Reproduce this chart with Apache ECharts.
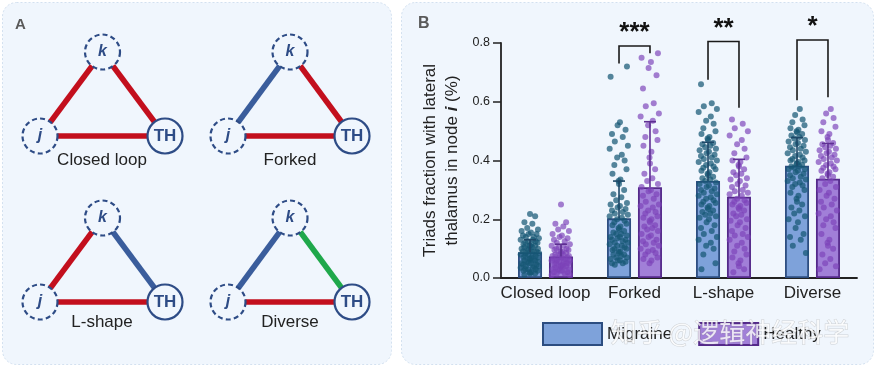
<!DOCTYPE html>
<html>
<head>
<meta charset="utf-8">
<script src="https://cdn.jsdelivr.net/npm/echarts@6/dist/echarts.min.js"></script>
<style>
html,body{margin:0;padding:0;background:#ffffff;}
#c{width:876px;height:367px;}
</style>
</head>
<body>
<div id="c"></div>
<script>
// ---------- DATA ----------
var categories = ['Closed loop', 'Forked', 'L-shape', 'Diverse'];
var seriesNames = ['Migraine', 'Healthy'];
var yTicks = [0, 0.2, 0.4, 0.6, 0.8];

var migraineMean = [0.088, 0.203, 0.330, 0.382];
var healthyMean  = [0.073, 0.309, 0.277, 0.338];
var migraineUpper = [0.130, 0.330, 0.462, 0.478];
var healthyUpper  = [0.115, 0.532, 0.404, 0.458];

// individual subjects
var closedMigraine = [0.218,0.21,0.19,0.185,0.17,0.165,0.16,0.155,0.15,0.15,0.145,0.14,0.14,0.135,0.13,0.13,0.125,0.125,0.12,0.12,0.115,0.115,0.11,0.11,0.11,0.105,0.105,0.10,0.10,0.10,0.095,0.095,0.09,0.09,0.09,0.085,0.085,0.08,0.08,0.08,0.075,0.075,0.07,0.07,0.07,0.065,0.065,0.06,0.06,0.06,0.055,0.055,0.05,0.05,0.05,0.045,0.045,0.04,0.04,0.04,0.035,0.035,0.03,0.03,0.03,0.025,0.025,0.02,0.02,0.015,0.015,0.01];
var closedHealthy = [0.25,0.19,0.185,0.175,0.165,0.16,0.15,0.145,0.14,0.135,0.13,0.125,0.12,0.115,0.11,0.11,0.105,0.10,0.10,0.095,0.095,0.09,0.09,0.085,0.085,0.08,0.08,0.08,0.075,0.075,0.07,0.07,0.07,0.065,0.065,0.06,0.06,0.06,0.055,0.055,0.05,0.05,0.05,0.045,0.045,0.04,0.04,0.04,0.035,0.035,0.03,0.03,0.03,0.025,0.025,0.02,0.02,0.015,0.015,0.01,0.01];
var forkedMigraine = [0.72,0.685,0.53,0.52,0.505,0.49,0.48,0.465,0.45,0.44,0.42,0.41,0.40,0.385,0.37,0.355,0.335,0.33,0.32,0.30,0.285,0.275,0.265,0.255,0.25,0.245,0.24,0.235,0.23,0.225,0.22,0.215,0.21,0.205,0.20,0.195,0.19,0.185,0.18,0.175,0.17,0.165,0.16,0.155,0.15,0.15,0.145,0.14,0.14,0.135,0.13,0.13,0.125,0.12,0.12,0.115,0.11,0.11,0.105,0.10,0.10,0.095,0.09,0.09,0.085,0.08,0.08,0.075,0.07,0.07,0.065,0.06,0.06,0.055,0.05,0.05,0.045];
var forkedHealthy = [0.765,0.75,0.735,0.715,0.69,0.645,0.595,0.585,0.56,0.55,0.535,0.52,0.50,0.48,0.47,0.45,0.43,0.41,0.39,0.37,0.355,0.34,0.33,0.32,0.31,0.30,0.295,0.285,0.28,0.27,0.26,0.25,0.245,0.24,0.23,0.225,0.22,0.21,0.205,0.20,0.195,0.19,0.18,0.175,0.17,0.165,0.16,0.15,0.145,0.14,0.13,0.125,0.12,0.115,0.11,0.10,0.095,0.09,0.085,0.08,0.07,0.065,0.06,0.05];
var lshapeMigraine = [0.66,0.595,0.585,0.575,0.565,0.55,0.535,0.525,0.51,0.50,0.49,0.48,0.475,0.47,0.46,0.455,0.45,0.445,0.44,0.435,0.43,0.425,0.42,0.415,0.41,0.405,0.40,0.395,0.39,0.385,0.38,0.375,0.37,0.365,0.36,0.355,0.35,0.345,0.34,0.335,0.33,0.325,0.32,0.315,0.31,0.305,0.30,0.295,0.29,0.285,0.28,0.275,0.27,0.265,0.26,0.255,0.25,0.245,0.24,0.235,0.23,0.225,0.22,0.215,0.21,0.205,0.20,0.19,0.18,0.17,0.16,0.15,0.14,0.13,0.12,0.11,0.10,0.08,0.05,0.03];
var lshapeHealthy = [0.54,0.525,0.51,0.50,0.485,0.47,0.455,0.44,0.425,0.41,0.40,0.395,0.385,0.38,0.37,0.36,0.355,0.35,0.34,0.335,0.33,0.32,0.315,0.31,0.30,0.295,0.29,0.285,0.28,0.27,0.265,0.26,0.255,0.25,0.245,0.24,0.235,0.23,0.22,0.215,0.21,0.20,0.195,0.19,0.18,0.17,0.16,0.15,0.145,0.14,0.13,0.12,0.11,0.10,0.09,0.08,0.07,0.06,0.05,0.04,0.03,0.02];
var diverseMigraine = [0.575,0.555,0.54,0.53,0.52,0.51,0.505,0.50,0.495,0.49,0.485,0.48,0.475,0.47,0.465,0.46,0.455,0.45,0.445,0.44,0.435,0.43,0.425,0.42,0.415,0.41,0.405,0.40,0.40,0.395,0.39,0.39,0.385,0.38,0.38,0.375,0.37,0.37,0.365,0.36,0.355,0.35,0.345,0.34,0.335,0.33,0.325,0.32,0.315,0.31,0.30,0.29,0.28,0.27,0.26,0.25,0.24,0.23,0.22,0.21,0.20,0.19,0.17,0.15,0.14,0.13,0.11,0.085];
var diverseHealthy = [0.575,0.56,0.545,0.53,0.515,0.50,0.49,0.48,0.47,0.46,0.455,0.45,0.445,0.44,0.435,0.43,0.425,0.42,0.415,0.41,0.405,0.40,0.395,0.39,0.385,0.38,0.375,0.37,0.365,0.36,0.355,0.35,0.345,0.34,0.33,0.32,0.31,0.30,0.29,0.28,0.27,0.26,0.25,0.24,0.23,0.22,0.21,0.20,0.19,0.18,0.17,0.15,0.13,0.12,0.11,0.10,0.08,0.065,0.05,0.04,0.03];

// hand-typed horizontal spread pattern of the dots (fraction of half-spread)
var jitterPattern = [0, 0.55, -0.6, 0.25, -0.3, 0.85, -0.9, 0.1, -0.15, 0.7, -0.75, 0.4, -0.45, 0.95, -1, 0.3, -0.2, 0.6, -0.5, 0.8, -0.7, 0.15, -0.05];

// significance brackets: [category, leftLegBottom, rightLegBottom, top, label]
var brackets = [
  [1, 0.730, 0.765, 0.790, '***'],
  [2, 0.675, 0.580, 0.805, '**'],
  [3, 0.605, 0.615, 0.810, '*']
];

// panel A: triad motifs
var motifNames = ['Closed loop', 'Forked', 'L-shape', 'Diverse'];
var nodeNames = ['j', 'k', 'TH'];
var nodeX = [0, 0.5, 1];
var nodeY = [0, 1, 0];
var nodeDashed = [true, true, false];
// edge colour order: j-k, k-TH, j-TH
var edgeColors = [
  ['red', 'red', 'red'],
  ['blue', 'red', 'red'],
  ['red', 'blue', 'red'],
  ['blue', 'green', 'red']
];
var edgePairs = [[0, 1], [1, 2], [0, 2]];

// ---------- STYLE ----------
var FONT = 'Liberation Sans, Arial, Helvetica, sans-serif';
var PANEL_BG = '#f0f6fd';
var NODE_COLOR = '#2e4c86';
var colorMap = { red: '#c30f1d', blue: '#3a5d9c', green: '#1fa84b' };
var motifGrids = [
  { left: 40, top: 52, width: 125, height: 84 },
  { left: 228, top: 52, width: 124, height: 84 },
  { left: 40, top: 218, width: 125, height: 84 },
  { left: 228, top: 218, width: 124, height: 84 }
];
var motifLabelPos = [[102, 160], [290, 160], [102, 322], [290, 322]];

var barGrid = { left: 501, right: 19, top: 43, bottom: 89 };
var halfOffset = 0.174;   // bar centre offset from category centre (category units)
var spread = 0.105;

var chart = echarts.init(document.getElementById('c'), null, { renderer: 'canvas' });

var grids = [], xAxes = [], yAxes = [], series = [];

// ----- Panel A grids -----
motifGrids.forEach(function (g, gi) {
  grids.push(Object.assign({ containLabel: false }, g));
  xAxes.push({ type: 'value', gridIndex: gi, min: 0, max: 1, show: false });
  yAxes.push({ type: 'value', gridIndex: gi, min: 0, max: 1, show: false });
  var edges = edgePairs.map(function (p, ei) {
    return {
      coords: [[nodeX[p[0]], nodeY[p[0]]], [nodeX[p[1]], nodeY[p[1]]]],
      lineStyle: { color: colorMap[edgeColors[gi][ei]], width: 5.5, opacity: 1 }
    };
  });
  series.push({
    type: 'lines', coordinateSystem: 'cartesian2d', xAxisIndex: gi, yAxisIndex: gi,
    polyline: false, clip: false, silent: true, z: 2, data: edges,
    lineStyle: { width: 5.5, opacity: 1, cap: 'butt' }
  });
  series.push({
    type: 'scatter', xAxisIndex: gi, yAxisIndex: gi, clip: false, silent: true, z: 3,
    symbol: 'circle', symbolSize: 35,
    data: nodeNames.map(function (n, ni) {
      return {
        value: [nodeX[ni], nodeY[ni]], name: n,
        itemStyle: {
          color: PANEL_BG, opacity: 1, borderColor: NODE_COLOR, borderWidth: 2.2,
          borderType: nodeDashed[ni] ? [5, 3.2] : 'solid'
        },
        label: {
          show: true, position: 'inside', formatter: n, color: NODE_COLOR,
          fontFamily: FONT, fontWeight: 'bold', fontSize: n === 'TH' ? 17 : 16,
          fontStyle: n === 'TH' ? 'normal' : 'italic'
        }
      };
    })
  });
});

// ----- Panel B -----
var bgi = grids.length;
grids.push(Object.assign({ containLabel: false }, barGrid));
var catAxisIdx = xAxes.length;
xAxes.push({
  type: 'category', gridIndex: bgi, data: categories,
  axisLine: { onZero: false, lineStyle: { color: '#222', width: 1.8 } },
  axisTick: { show: false },
  axisLabel: { color: '#222', fontSize: 17, fontFamily: FONT, margin: 7, interval: 0 }
});
var valXIdx = xAxes.length;
xAxes.push({ type: 'value', gridIndex: bgi, min: -0.5, max: 3.5, show: false });
var valYIdx = yAxes.length;
yAxes.push({
  type: 'value', gridIndex: bgi, min: yTicks[0], max: yTicks[yTicks.length - 1], interval: 0.2,
  splitLine: { show: false },
  axisLine: { show: true, onZero: false, lineStyle: { color: '#222', width: 1.8 } },
  axisTick: { show: true, length: 8, lineStyle: { color: '#222', width: 1.5 } },
  axisLabel: { color: '#222', fontSize: 12.5, fontFamily: FONT, margin: 11,
    formatter: function (v) { return v.toFixed(1); } },
  name: '{a|Triads fraction with lateral}\n{a|thalamus in node }{b|i}{a| (%)}',
  nameLocation: 'middle', nameGap: 38, nameRotate: 90,
  nameTextStyle: {
    rich: {
      a: { fontSize: 17, fontFamily: FONT, color: '#222', lineHeight: 22 },
      b: { fontSize: 17, fontFamily: FONT, color: '#222', lineHeight: 22, fontWeight: 'bold', fontStyle: 'italic' }
    }
  }
});

var barColors = [
  { fill: '#7ea2da', border: '#2c4d80' },
  { fill: '#a17fd8', border: '#54298a' }
];
var dotColors = ['rgba(22,88,116,0.72)', 'rgba(124,66,184,0.68)'];
var errColors = ['#1d4868', '#5e2f92'];

[migraineMean, healthyMean].forEach(function (d, si) {
  series.push({
    name: seriesNames[si], type: 'bar', xAxisIndex: catAxisIdx, yAxisIndex: valYIdx,
    data: d, barWidth: 24, barGap: '29%', z: 2,
    itemStyle: { color: barColors[si].fill, borderColor: barColors[si].border, borderWidth: 1.8 }
  });
});

var dotGroups = [
  [closedMigraine, forkedMigraine, lshapeMigraine, diverseMigraine],
  [closedHealthy, forkedHealthy, lshapeHealthy, diverseHealthy]
];
dotGroups.forEach(function (groups, si) {
  var pts = [];
  groups.forEach(function (vals, ci) {
    var cx = ci + (si === 0 ? -halfOffset : halfOffset);
    vals.forEach(function (v, k) {
      pts.push([cx + jitterPattern[(k + ci * 5) % jitterPattern.length] * spread, v]);
    });
  });
  series.push({
    type: 'scatter', xAxisIndex: valXIdx, yAxisIndex: valYIdx, data: pts,
    symbolSize: 6, silent: true, z: 3, clip: false,
    itemStyle: { color: dotColors[si], opacity: 1 }
  });
});

// error bars (upper half, mean -> mean + SD)
[[migraineMean, migraineUpper], [healthyMean, healthyUpper]].forEach(function (pair, si) {
  var data = pair[0].map(function (m, ci) {
    return [ci + (si === 0 ? -halfOffset : halfOffset), m, pair[1][ci]];
  });
  series.push({
    type: 'custom', xAxisIndex: valXIdx, yAxisIndex: valYIdx, data: data, z: 4, silent: true,
    renderItem: function (params, api) {
      var p0 = api.coord([api.value(0), api.value(1)]);
      var p1 = api.coord([api.value(0), api.value(2)]);
      var st = { stroke: errColors[si], lineWidth: 1.6 };
      return { type: 'group', children: [
        { type: 'line', shape: { x1: p0[0], y1: p0[1], x2: p1[0], y2: p1[1] }, style: st },
        { type: 'line', shape: { x1: p1[0] - 6, y1: p1[1], x2: p1[0] + 6, y2: p1[1] }, style: st }
      ] };
    }
  });
});

// significance brackets
series.push({
  type: 'custom', xAxisIndex: valXIdx, yAxisIndex: valYIdx, z: 5, silent: true, clip: false,
  data: brackets.map(function (b) { return [b[0] - halfOffset, b[0] + halfOffset, b[1], b[2], b[3], b[0]]; }),
  renderItem: function (params, api) {
    var b = brackets[params.dataIndex];
    var lb = api.coord([api.value(0), api.value(2)]);
    var lt = api.coord([api.value(0), api.value(4)]);
    var rt = api.coord([api.value(1), api.value(4)]);
    var rb = api.coord([api.value(1), api.value(3)]);
    var mid = api.coord([api.value(5), api.value(4)]);
    return { type: 'group', children: [
      { type: 'polyline', shape: { points: [lb, lt, rt, rb] },
        style: { stroke: '#1a1a1a', lineWidth: 1.6, fill: null } },
      { type: 'text', x: mid[0], y: mid[1] - 13,
        style: { text: b[4], fill: '#111', font: 'bold 26px ' + FONT, align: 'center', verticalAlign: 'middle' } }
    ] };
  }
});

var option = {
  backgroundColor: '#ffffff',
  animation: false,
  grid: grids, xAxis: xAxes, yAxis: yAxes, series: series,
  legend: {
    data: seriesNames, left: 542, top: 322, padding: 0, itemWidth: 59, itemHeight: 22, itemGap: 26,
    textStyle: { color: '#222', fontSize: 17, fontFamily: FONT }, icon: 'rect'
  },
  graphic: [
    { type: 'rect', z: -10, shape: { x: 2.5, y: 2.5, width: 389, height: 362, r: 14 },
      style: { fill: PANEL_BG, stroke: '#d3e1f0', lineWidth: 1, lineDash: [2, 2] } },
    { type: 'rect', z: -10, shape: { x: 401.5, y: 2.5, width: 472, height: 362, r: 14 },
      style: { fill: PANEL_BG, stroke: '#d3e1f0', lineWidth: 1, lineDash: [2, 2] } },
    { type: 'text', left: 15, top: 17, style: { text: 'A', fill: '#5a5a5a', font: 'bold 15px ' + FONT } },
    { type: 'text', left: 418, top: 16, style: { text: 'B', fill: '#5a5a5a', font: 'bold 16px ' + FONT } }
  ].concat(motifNames.map(function (n, i) {
    return { type: 'text', x: motifLabelPos[i][0], y: motifLabelPos[i][1], z: 10,
      style: { text: n, fill: '#222', font: '17px ' + FONT, align: 'center', verticalAlign: 'middle' } };
  })).concat([
    { type: 'text', x: 730, y: 332, z: 100,
      style: { text: '知乎 @逻辑神经科学', fill: 'rgba(255,255,255,0.8)', stroke: 'rgba(140,140,140,0.35)', lineWidth: 1,
        font: '26px "Noto Sans CJK SC", sans-serif', align: 'center', verticalAlign: 'middle' } }
  ])
};
chart.setOption(option);
</script>
</body>
</html>
